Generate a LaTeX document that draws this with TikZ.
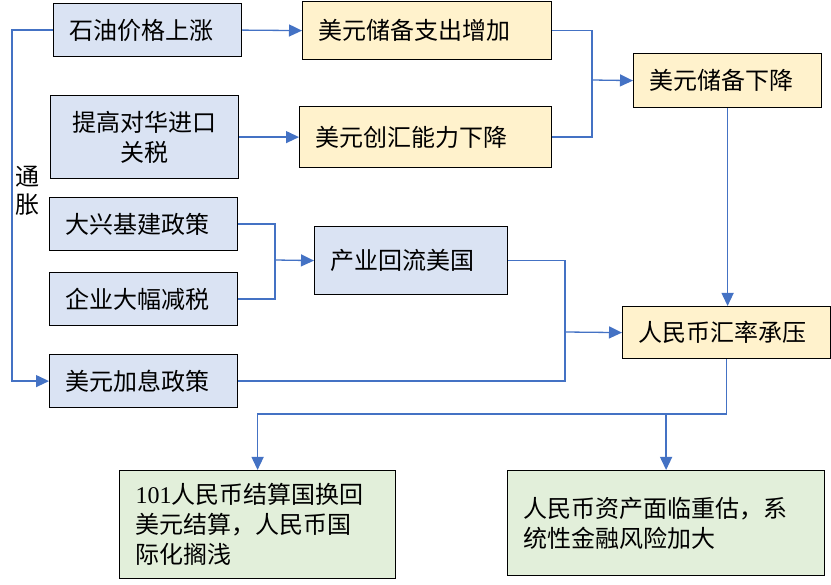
\documentclass[tikz,border=0pt]{standalone}
\usepackage{fontspec}
\setmainfont{Liberation Serif}
\newfontfamily\cjk{Noto Sans CJK SC}
\usetikzlibrary{arrows.meta}
\definecolor{lineblue}{HTML}{4472C4}
\definecolor{fblue}{HTML}{DAE3F3}
\definecolor{fyellow}{HTML}{FFF2CC}
\definecolor{fgreen}{HTML}{E2EFDA}
\begin{document}
\begin{tikzpicture}[x=1pt,y=-1pt,
  box/.style={draw=black, line width=1.2pt, inner xsep=16pt, inner ysep=0pt,
    anchor=north west, align=left, font=\cjk\fontsize{24}{30}\selectfont},
  conn/.style={draw=lineblue, line width=1.3pt},
  arr/.style={conn, -{Triangle[length=13pt,width=12pt]}},
  lbl/.style={inner sep=0pt, align=center, font=\cjk\fontsize{24}{28}\selectfont}]
\useasboundingbox (0,0) rectangle (831,585);
% left column
\node[box, fill=fblue, text width=156pt, minimum height=53pt] (b1) at (53,3) {石油价格上涨};
\node[box, fill=fblue, text width=156pt, minimum height=83pt, align=center] (b2) at (50,95) {提高对华进口\\关税};
\node[box, fill=fblue, text width=156pt, minimum height=53pt] (b3) at (49,197) {大兴基建政策};
\node[box, fill=fblue, text width=156pt, minimum height=53pt] (b4) at (49,272) {企业大幅减税};
\node[box, fill=fblue, text width=156pt, minimum height=53pt] (b5) at (49,354) {美元加息政策};
% middle
\node[box, fill=fyellow, text width=217pt, minimum height=58pt] (y1) at (302,1) {美元储备支出增加};
\node[box, fill=fyellow, text width=220pt, minimum height=61pt] (y2) at (299,106) {美元创汇能力下降};
\node[box, fill=fblue, text width=161pt, minimum height=68pt] (p) at (314,226) {产业回流美国};
% right
\node[box, fill=fyellow, text width=156pt, minimum height=54pt] (y3) at (633,53) {美元储备下降};
\node[box, fill=fyellow, text width=176pt, minimum height=52pt] (r) at (622,306) {人民币汇率承压};
% bottom
\node[box, fill=fgreen, text width=244pt, minimum height=108pt] (g1) at (119,470) {{\rmfamily 101}人民币结算国换回\\美元结算，人民币国\\际化搁浅};
\node[box, fill=fgreen, text width=285pt, minimum height=105pt] (g2) at (507,470) {人民币资产面临重估，系\\统性金融风险加大};
% label
\node[lbl] (tz) at (27.5,191) {通\\胀};
% connectors
\draw[arr] (b1.east) -- (y1.west);
\draw[arr] (b2.east) -- (y2.west);
\coordinate (j1) at (592,80);
\draw[conn] (y1.east) -| (j1) |- (y2.east);
\draw[arr] (j1) -- (y3.west);
\draw[arr] (y3.south) -- (y3.south |- r.north);
\coordinate (j2) at (275,260);
\draw[conn] (b3.east) -| (j2) |- (b4.east);
\draw[arr] (j2) -- (p.west);
\coordinate (j3) at (565,332);
\draw[conn] (p.east) -| (j3) |- (b5.east);
\draw[arr] (j3) -- (r.west);
\coordinate (j4) at (12,200);
\draw[arr] (b1.west) -| (j4) |- (b5.west);
\coordinate (j5) at (727,414);
\draw[arr] (r.south) -- (r.south |- j5) -| (g1.north);
\draw[arr] (g2.north |- j5) -- (g2.north);
\end{tikzpicture}
\end{document}
